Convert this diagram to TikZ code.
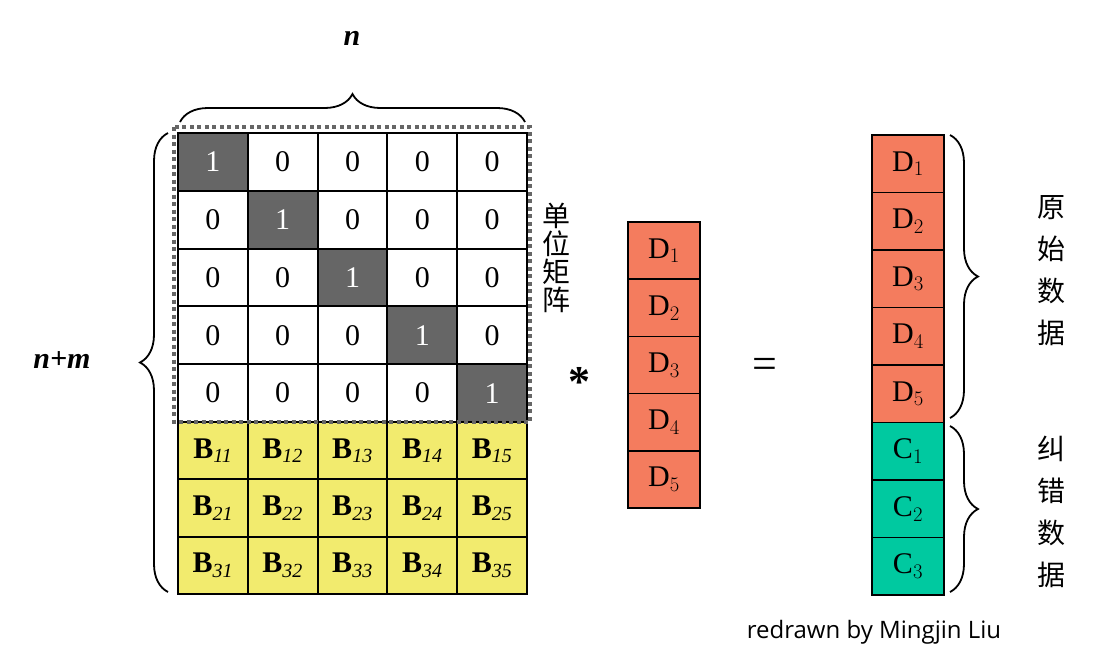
\documentclass[tikz,border=0pt]{standalone}
\usepackage{fontspec}
\setmainfont{Liberation Serif}
\newfontfamily\cjk{Noto Sans CJK SC}
\newfontfamily\sans{Open Sans}
\usetikzlibrary{decorations.pathreplacing}
\definecolor{dg}{HTML}{666666}
\definecolor{yel}{HTML}{F2EB6E}
\definecolor{org}{HTML}{F47C5E}
\definecolor{tea}{HTML}{00C9A0}
\begin{document}
\begin{tikzpicture}[x=1pt,y=-1pt,
  cell/.style={draw=black,line width=2pt,minimum width=69.8pt,minimum height=57.8pt,inner sep=0pt,font=\fontsize{30}{30}\selectfont},
  dcell/.style={draw=black,line width=1.5pt,minimum width=72pt,minimum height=57.3pt,inner sep=0pt,font=\fontsize{30}{30}\selectfont},
  br/.style={decorate,decoration={brace,amplitude=28pt},line width=1.8pt},
  cjkl/.style={font=\cjk\fontsize{28}{34}\selectfont,align=center}]
\useasboundingbox (0,0) rectangle (1096,657);
% identity
\foreach \r in {1,...,5}{\foreach \c in {1,...,5}{
  \pgfmathsetmacro\xx{178+69.8*(\c-0.5)}\pgfmathsetmacro\yy{133+57.8*(\r-0.5)}
  \ifnum\r=\c
    \node[cell,fill=dg,text=white] (i\r\c) at (\xx,\yy) {1};
  \else
    \node[cell,fill=white] (i\r\c) at (\xx,\yy) {0};
  \fi}}
\foreach \r in {1,2,3}{\foreach \c in {1,...,5}{
  \pgfmathsetmacro\xx{178+69.8*(\c-0.5)}\pgfmathsetmacro\yy{422+57.4*(\r-0.5)}
  \node[cell,fill=yel,minimum height=57.4pt] (b\r\c) at (\xx,\yy) {\textbf{B}$_{\textit{\fontsize{20}{20}\selectfont\r\c}}$};}}
\draw[dg,line width=4pt,dash pattern=on 4pt off 3.5pt] (174,127) rectangle (530,422);
\node[cjkl,anchor=center] (lbl) at (556,258) {单\\[-6pt]位\\[-6pt]矩\\[-6pt]阵};
% D vector
\foreach \i in {1,...,5}{
  \node[dcell,fill=org] (d\i) at (664,{222+57.2*(\i-0.5)}) {D$_{\i}$};}
% result
\foreach \i in {1,...,5}{
  \node[dcell,fill=org] (r\i) at (908,{135+57.5*(\i-0.5)}) {D$_{\i}$};}
\foreach \i in {1,2,3}{
  \node[dcell,fill=tea] (c\i) at (908,{422.5+57.5*(\i-0.5)}) {C$_{\i}$};}
\node[font=\fontsize{44}{44}\selectfont\bfseries] (star) at (579,382) {*};
\node[font=\fontsize{44}{44}\selectfont] (eq) at (765,368) {=};
% braces
\draw[br] (180,122) -- (525,122);
\node[font=\fontsize{30}{30}\selectfont\bfseries\itshape] (n) at (352,38) {n};
\draw[br] (168,592) -- (168,133);
\node[font=\fontsize{30}{30}\selectfont\bfseries\itshape] (nm) at (62,360) {n+m};
\draw[br] (950,135) -- (950,418);
\draw[br] (950,426) -- (950,592);
\node[cjkl] (t1) at (1051,271) {原\\[8pt]始\\[8pt]数\\[8pt]据};
\node[cjkl] (t2) at (1051,512) {纠\\[8pt]错\\[8pt]数\\[8pt]据};
\node[font=\sans\fontsize{24}{24}\selectfont] (cr) at (874,632) {redrawn by Mingjin Liu};
\end{tikzpicture}
\end{document}
